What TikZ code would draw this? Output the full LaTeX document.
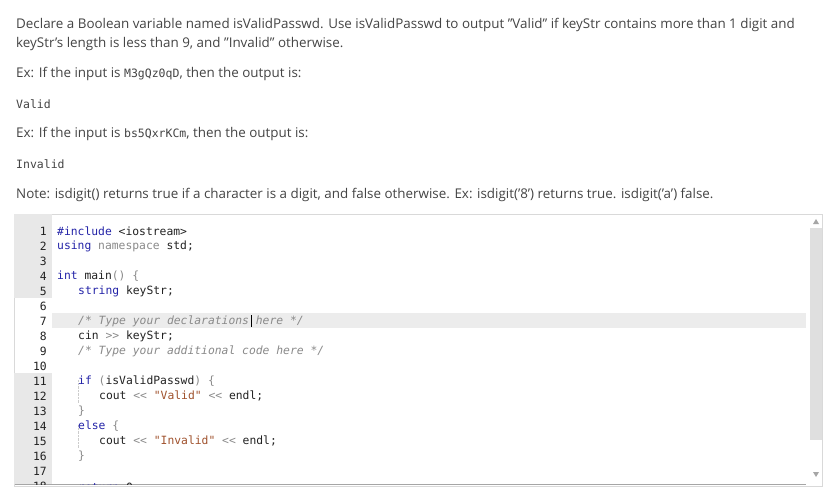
\documentclass[tikz,border=0pt]{standalone}
\usepackage{fontspec}
\setmainfont{Open Sans}
\setmonofont{DejaVu Sans Mono}
\definecolor{txt}{HTML}{444444}
\definecolor{kw}{HTML}{2424A8}
\definecolor{cm}{HTML}{8A8A8A}
\definecolor{st}{HTML}{A0522D}
\definecolor{gut}{HTML}{E8E8E8}
\definecolor{ctext}{HTML}{222222}
\tikzset{
 prose/.style={anchor=west,inner sep=0pt,text=txt,font=\fontsize{13.4}{15}\selectfont},
 code/.style={anchor=west,inner sep=0pt,text=ctext,font=\fontsize{11.35}{13}\ttfamily},
 num/.style={anchor=east,inner sep=0pt,text=ctext,font=\fontsize{11.35}{13}\ttfamily},
}
\newcommand{\ic}[1]{{\fontsize{11.5}{13}\ttfamily #1}}
\newcommand{\K}[1]{\textcolor{kw}{#1}}
\newcommand{\C}[1]{\textcolor{cm}{\itshape #1}}
\newcommand{\G}[1]{\textcolor{cm}{#1}}
\newcommand{\Sx}[1]{\textcolor{st}{#1}}
\begin{document}
\begin{tikzpicture}[x=1pt,y=-1pt]
\useasboundingbox (0,0) rectangle (836,492);
\fill[white] (0,0) rectangle (836,492);
\node[prose] (p1) at (16,25) {Declare a Boolean variable named isValidPasswd. Use isValidPasswd to output "Valid" if keyStr contains more than 1 digit and};
\node[prose] (p2) at (16,44) {keyStr's length is less than 9, and "Invalid" otherwise.};
\node[prose] (p3) at (16,74) {Ex: If the input is \ic{M3gQz0qD}, then the output is:};
\node[prose] (p4) at (16,104) {\ic{Valid}};
\node[prose] (p5) at (16,134) {Ex: If the input is \ic{bs5QxrKCm}, then the output is:};
\node[prose] (p6) at (16,164) {\ic{Invalid}};
\node[prose] (p7) at (16,195) {Note: isdigit() returns true if a character is a digit, and false otherwise. Ex: isdigit('8') returns true. isdigit('a') false.};
% editor
\draw[gray!30] (14,214) rectangle (822,486);
\fill[gut] (14,214) rectangle (52,298);
\fill[gut] (14,373) rectangle (52,484);
\fill[gray!15] (52,313) rectangle (806,328);
\draw[gray!70] (15,484.5) -- (806,484.5);
\fill[gray!25] (810,228) rectangle (822,440);
\fill[gray!70] (813,224) -- (819,224) -- (816,219) -- cycle;
\fill[gray!70] (813,472) -- (819,472) -- (816,477) -- cycle;
\draw[black] (251,315) -- (251,327);
\draw[gray!40,densely dotted] (78,380) -- (78,403);
\draw[gray!40,densely dotted] (78,425) -- (78,448);
\begin{scope}
\clip (14,214) rectangle (806,484);
\foreach \i in {1,...,18} {\node[num] (n\i) at (47,{231+15*(\i-1)}) {\i};}
\node[code] (c1) at (57,231) {\K{\#include} <iostream>};
\node[code] (c2) at (57,246) {\K{using} \G{namespace} std;};
\node[code] (c4) at (57,276) {\K{int} main\G{()} \G{\{}};
\node[code] (c5) at (78,291) {\K{string} keyStr;};
\node[code] (c7) at (78,321) {\C{/* Type your declarations here */}};
\node[code] (c8) at (78,336) {cin \G{>>} keyStr;};
\node[code] (c9) at (78,351) {\C{/* Type your additional code here */}};
\node[code] (c11) at (78,381) {\K{if} \G{(}isValidPasswd\G{)} \G{\{}};
\node[code] (c12) at (99,396) {cout \G{<<} \Sx{"Valid"} \G{<<} endl;};
\node[code] (c13) at (78,411) {\G{\}}};
\node[code] (c14) at (78,426) {\K{else} \G{\{}};
\node[code] (c15) at (99,441) {cout \G{<<} \Sx{"Invalid"} \G{<<} endl;};
\node[code] (c16) at (78,456) {\G{\}}};
\node[code] (c18) at (78,488) {\K{return} 0;};
\end{scope}
\end{tikzpicture}
\end{document}
